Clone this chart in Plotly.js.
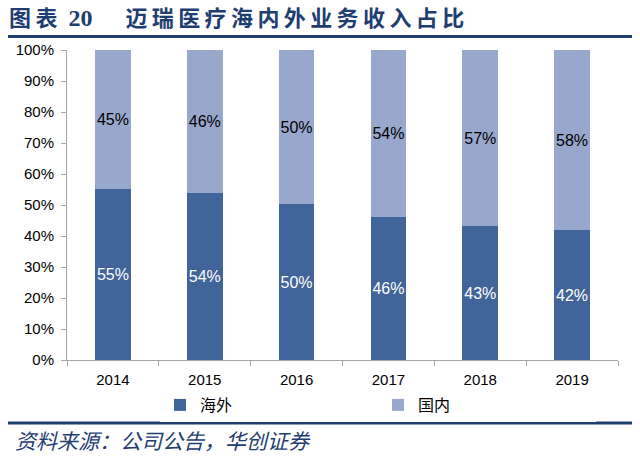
<!DOCTYPE html>
<html><head><meta charset="utf-8">
<script src="https://cdn.plot.ly/plotly-3.0.1.min.js"></script>
<style>html,body{margin:0;padding:0;background:#fff}#c{width:640px;height:456px}</style>
</head><body><div id="c"></div>
<script>
const years = ['2014','2015','2016','2017','2018','2019'];
const overseas = [55.2, 53.9, 50.3, 46.1, 43.2, 41.9];
const domestic = [44.8, 46.1, 49.7, 53.9, 56.8, 58.1];
const yTickVals = [0,10,20,30,40,50,60,70,80,90,100];
const yTickText = yTickVals.map(v => v + '%');
const titleLead = '图表';
const titleNum = '20';
const titleMain = '迈瑞医疗海内外业务收入占比';
const sourceText = '资料来源：公司公告，华创证券';

const W = 640, H = 456, L = 67, R = 618, T = 50, B = 360;
const px = x => (x - L) / (R - L);
const py = y => (B - y) / (B - T);
const spaced = s => s.split('').join('\u2009');

const data = [
  {type:'bar', name:'海外', x:years, y:overseas, marker:{color:'#41649a'},
   texttemplate:'%{y:.0f}%', textposition:'inside', insidetextanchor:'middle', textangle:0, constraintext:'none',
   textfont:{color:'#ffffff', size:16, family:'Liberation Sans, Arial'}, hoverinfo:'none'},
  {type:'bar', name:'国内', x:years, y:domestic, marker:{color:'#98a8cc'},
   texttemplate:'%{y:.0f}%', textposition:'inside', insidetextanchor:'middle', textangle:0, constraintext:'none',
   textfont:{color:'#000000', size:16, family:'Liberation Sans, Arial'}, hoverinfo:'none'}
];

const layout = {
  width:W, height:H, barmode:'stack', bargap:0.61,
  margin:{l:L, r:W-R, t:T, b:H-B, pad:0},
  paper_bgcolor:'#fff', plot_bgcolor:'#fff',
  font:{family:'Liberation Sans, Arial, Noto Sans CJK SC', color:'#000'},
  xaxis:{type:'category', showline:true, linecolor:'#a6a6a6', linewidth:1,
    ticks:'outside', tickson:'boundaries', ticklen:5, tickcolor:'#a6a6a6', ticklabelstandoff:6,
    tickfont:{size:15, family:'Liberation Sans, Arial'}, showgrid:false, zeroline:false},
  yaxis:{range:[0,100], tickvals:yTickVals, ticktext:yTickText, showline:true,
    linecolor:'#a6a6a6', linewidth:1, ticks:'outside', ticklen:5, tickcolor:'#a6a6a6',
    tickfont:{size:15, family:'Liberation Sans, Arial'}, showgrid:false, zeroline:false, ticklabelstandoff:4},
  showlegend:true,
  legend:{orientation:'h', x:px(160), xanchor:'left', y:py(405), yanchor:'middle',
    entrywidth:173, entrywidthmode:'pixels', font:{size:16, family:'Noto Sans CJK SC'},
    itemwidth:30, tracegroupgap:0, traceorder:'normal'},
  title:{text:'<b>' + spaced(titleLead) + '\u2002<span style="font-family:Liberation Serif;font-size:24px">' + titleNum + '</span>\u2003\u2002' + spaced(titleMain) + '</b>',
    xref:'container', x:9/W, xanchor:'left', yref:'container', y:1-18/H, yanchor:'middle',
    font:{size:22, color:'#1e3d71', family:'Noto Sans CJK SC'}},
  shapes:[
    {type:'line', xref:'paper', yref:'paper', x0:px(8), x1:px(632), y0:py(36.5), y1:py(36.5), line:{color:'#1e3d71', width:3}},
    {type:'line', xref:'paper', yref:'paper', x0:px(8), x1:px(632), y0:py(423), y1:py(423), line:{color:'#1e3d71', width:3}}
  ],
  annotations:[
    {xref:'paper', yref:'paper', x:px(14), xanchor:'left', y:py(440), yanchor:'middle', showarrow:false, borderpad:0,
     text:'<i>' + sourceText + '</i>', font:{size:21, color:'#1e3d71', family:'Noto Sans CJK SC'}}
  ]
};
Plotly.newPlot('c', data, layout, {staticPlot:true, displayModeBar:false});
</script></body></html>
